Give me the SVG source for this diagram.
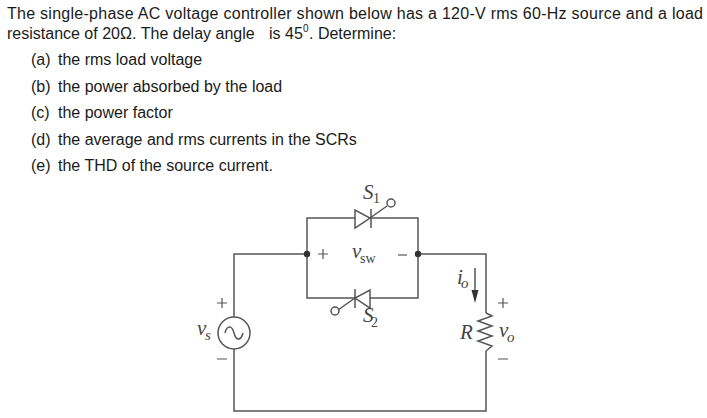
<svg xmlns="http://www.w3.org/2000/svg" width="707" height="418" viewBox="0 0 707 418">
<style>
.t{font:16px "Liberation Sans",Arial,sans-serif;fill:#1a1a1a}
.m{font:italic 21px "Liberation Serif","Times New Roman",serif;fill:#444}
.s{font:italic 15px "Liberation Serif","Times New Roman",serif;fill:#444}
.n{font:14px "Liberation Serif","Times New Roman",serif;fill:#444}
.w{fill:none;stroke:#555;stroke-width:1.5}
.g{fill:none;stroke:#555;stroke-width:1.200}
.d{fill:#333}
</style>
<rect width="707" height="418" fill="#fff"/>
<g id="problem-text">
<text class="t" x="7" y="19" textLength="696" lengthAdjust="spacing">The single-phase AC voltage controller shown below has a 120-V rms 60-Hz source and a load</text>
<text class="t" x="7" y="39">resistance of 20Ω. The delay angle</text>
<text class="t" x="269" y="39">is 45</text>
<text style="font:10px 'Liberation Sans',Arial,sans-serif;fill:#1a1a1a" x="303" y="32">0</text>
<text class="t" x="309" y="39">. Determine:</text>
<text class="t" x="31" y="65">(a)</text><text class="t" x="58" y="65">the rms load voltage</text>
<text class="t" x="31" y="92">(b)</text><text class="t" x="58" y="92">the power absorbed by the load</text>
<text class="t" x="31" y="118">(c)</text><text class="t" x="58" y="118">the power factor</text>
<text class="t" x="31" y="145">(d)</text><text class="t" x="58" y="145">the average and rms currents in the SCRs</text>
<text class="t" x="31" y="171">(e)</text><text class="t" x="58" y="171">the THD of the source current.</text>
</g>
<g id="connectors">
<path class="w" d="M234 317V254H307M307 254V218H355M370 218H418V254M307 254V298H355M370 298H418V254M418 254H486V313M486 351V411H234V349"/>
</g>
<g id="s1">
<path class="w" d="M355 210V228L370 218ZM371 209V228M370 218L387 206"/>
<circle class="w" cx="391" cy="203" r="4" fill="#fff"/>
<text class="m" x="363" y="199">S</text><text class="n" x="373" y="203">1</text>
</g>
<g id="s2">
<path class="w" d="M370 290V308L355 298ZM355 289V308M355 298L338 310"/>
<circle class="w" cx="335" cy="311" r="4" fill="#fff"/>
<text class="m" x="363" y="322">S</text><text class="n" x="371" y="327">2</text>
</g>
<g id="junctions">
<circle class="d" cx="307" cy="254" r="3.200"/>
<circle class="d" cx="418" cy="254" r="3.200"/>
</g>
<g id="vsw">
<path class="g" d="M318 254H328M323 249V259"/>
<text class="m" x="352" y="258">v</text><text class="s" x="360" y="263" style="font-style:normal;font-size:14px">sw</text>
<path class="g" d="M398 255H407"/>
</g>
<g id="source">
<circle class="w" cx="234" cy="333" r="16"/>
<path class="w" d="M225 333C227 325 232 325 234 333S241 341 243 333"/>
<path class="g" d="M217 303H227M222 298V308M217 359H227"/>
<text class="m" x="197" y="335">v</text><text class="s" x="205" y="340">s</text>
</g>
<g id="load">
<path class="w" d="M486 313L492 316L478 321L492 326L478 331L492 336L478 341L492 346L486 351"/>
<text class="m" x="460" y="339">R</text>
<text class="m" x="499" y="337">v</text><text class="s" x="507" y="342">o</text>
<path class="g" d="M498 303H508M503 298V308M498 359H508"/>
</g>
<g id="current">
<path class="w" d="M475 268V292"/>
<path class="d" d="M471.500 290H478.500L475 303Z"/>
<text class="m" x="457" y="284">i</text><text class="s" x="461" y="288">o</text>
</g>
</svg>
